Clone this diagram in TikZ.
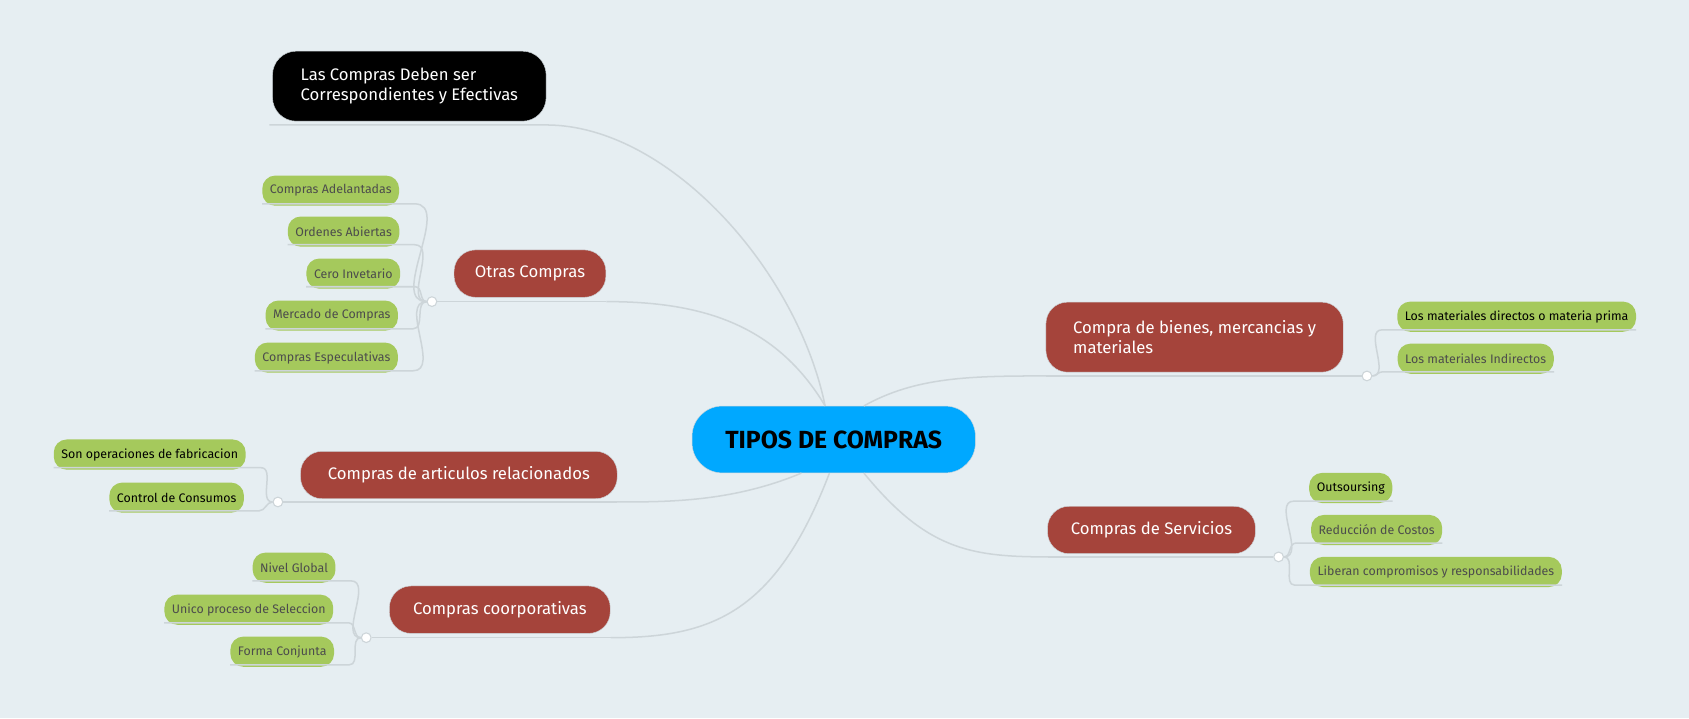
\documentclass[tikz,border=0pt]{standalone}
\usepackage{fontspec}
\setmainfont{Fira Sans}
\definecolor{bg}{HTML}{E6EEF2}
\definecolor{rd}{HTML}{A5443B}
\definecolor{gr}{HTML}{A5C95C}
\definecolor{bl}{HTML}{00A8FF}
\definecolor{ln}{HTML}{CDD5D9}
\begin{document}
\begin{tikzpicture}[x=1pt,y=-1pt,
  conn/.style={draw=ln, line width=1.4pt},
  root/.style={fill=bl, draw=ln, rounded corners=28pt, minimum width=263pt, minimum height=62pt, font=\fontsize{23}{26}\selectfont\bfseries},
  blk/.style={fill=black, draw=ln, rounded corners=22pt, text=white, align=left, font=\fontsize{15.5}{19}\selectfont, minimum height=65pt},
  red/.style={fill=rd, draw=ln, rounded corners=20pt, text=white, align=left, font=\fontsize{15.5}{19}\selectfont, minimum height=44pt},
  grn/.style={fill=gr, rounded corners=12pt, minimum height=28pt, inner xsep=7pt, font=\fontsize{11.5}{13}\selectfont, text=black!70},
  grnb/.style={grn, text=black},
  dot/.style={circle, draw=ln, fill=white, line width=1pt, inner sep=0pt, minimum size=9pt}]
\useasboundingbox[fill=bg] (0,0) rectangle (1568,667);
\node[root] (c) at (774,408) {TIPOS DE COMPRAS};
\node[blk, minimum width=254pt] (b) at (380,80) {Las Compras Deben ser\\Correspondientes y Efectivas};
\node[red, minimum width=141pt] (o) at (492,254) {Otras Compras};
\node[red, minimum width=294pt] (a) at (426,441) {Compras de articulos relacionados};
\node[red, minimum width=205pt] (k) at (464,566) {Compras coorporativas};
\node[red, minimum width=276pt, minimum height=65pt] (m) at (1109,313) {Compra de bienes, mercancias y\\materiales\hspace*{45pt}};
\node[red, minimum width=193pt] (s) at (1069,492) {Compras de Servicios};
\coordinate (bu) at (507,116); \coordinate (bl) at (250,116);
\coordinate (ou) at (563,280); \coordinate (au) at (573,466); \coordinate (ku) at (567,592);
\coordinate (mu) at (971,349); \coordinate (su) at (973,517);
\draw[conn] (c.north) ++(-8,0) coordinate (c1) (c1) .. controls (740,250) and (620,116) .. (bu) -- (bl);
\draw[conn] (c1) .. controls (720,300) and (650,280) .. (ou);
\draw[conn] (c.south) ++(-30,0) coordinate (c2) (c2) .. controls (680,466) and (620,466) .. (au);
\draw[conn] (c.south) ++(-4,0) coordinate (c3) (c3) .. controls (720,570) and (660,592) .. (ku);
\draw[conn] (c.north) ++(28,0) coordinate (c4) (c4) .. controls (850,350) and (900,349) .. (mu);
\draw[conn] (c.south) ++(28,0) coordinate (c5) (c5) .. controls (860,510) and (900,517) .. (su);
\node[dot] (od) at (401,280) {}; \node[dot] (ad) at (258,466) {};
\node[dot] (kd) at (340,592) {}; \node[dot] (md) at (1269,349) {}; \node[dot] (sd) at (1187,517) {};
\draw[conn] (od) -- (ou); \draw[conn] (ad) -- (au); \draw[conn] (kd) -- (ku);
\draw[conn] (mu) -- (md); \draw[conn] (su) -- (sd);
\foreach \t/\x/\y/\n in {Compras Adelantadas/307/177/o1, Ordenes Abiertas/319/215/o2, Cero Invetario/328/254/o3, Mercado de Compras/308/293/o4, Compras Especulativas/303/332/o5}{
  \node[grn] (\n) at (\x,\y) {\t};
  \draw[conn] (od) to[out=180,in=0] ([xshift=14pt,yshift=2pt]\n.south east) -- ([yshift=2pt]\n.south west);}
\node[grnb] (a1) at (139,422) {Son operaciones de fabricacion};
\node[grnb] (a2) at (164,462) {Control de Consumos};
\foreach \n in {a1,a2}{\draw[conn] (ad) to[out=180,in=0] ([xshift=14pt,yshift=2pt]\n.south east) -- ([yshift=2pt]\n.south west);}
\node[grn] (k1) at (273,527) {Nivel Global};
\node[grn] (k2) at (231,566) {Unico proceso de Seleccion};
\node[grn] (k3) at (262,605) {Forma Conjunta};
\foreach \n in {k1,k2,k3}{\draw[conn] (kd) to[out=180,in=0] ([xshift=14pt,yshift=2pt]\n.south east) -- ([yshift=2pt]\n.south west);}
\node[grnb] (m1) at (1408,294) {Los materiales directos o materia prima};
\node[grn] (m2) at (1370,333) {Los materiales Indirectos};
\foreach \n in {m1,m2}{\draw[conn] (md) to[out=0,in=180] ([xshift=-14pt,yshift=2pt]\n.south west) -- ([yshift=2pt]\n.south east);}
\node[grnb] (s1) at (1254,453) {Outsoursing};
\node[grn] (s2) at (1278,492) {Reducción de Costos};
\node[grn] (s3) at (1333,531) {Liberan compromisos y responsabilidades};
\foreach \n in {s1,s2,s3}{\draw[conn] (sd) to[out=0,in=180] ([xshift=-14pt,yshift=2pt]\n.south west) -- ([yshift=2pt]\n.south east);}
\end{tikzpicture}
\end{document}
